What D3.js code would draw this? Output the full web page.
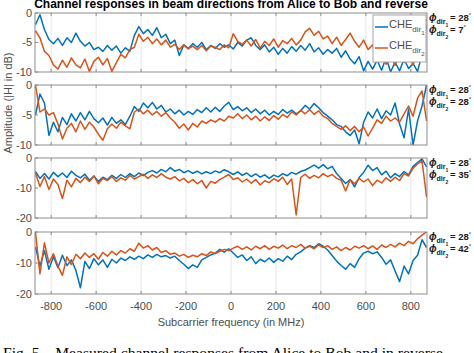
<!DOCTYPE html>
<html>
<head>
<meta charset="utf-8">
<script src="https://cdn.jsdelivr.net/npm/d3@7"></script>
<style>
  body { margin: 0; background: #fff; }
  svg { display: block; }
</style>
</head>
<body>
<div id="canvas"></div>
<script>
"use strict";

/* =========================
   DATA
   ========================= */

// sampling grid of subcarrier frequencies (MHz), one value every 20 MHz
let freqs = d3.range(-870, 871, 20);

let xTicks = [-800, -600, -400, -200, 0, 200, 400, 600, 800];

let phiDir1 = [28, 28, 28, 28];
let phiDir2 = [7, 28, 35, 42];

let yDomains = [[-10, 0], [-10, 0], [-20, 0], [-20, 0]];
let yTickVals = [[0, -5, -10], [0, -5, -10], [0, -10, -20], [0, -10, -20]];

// CHE dir1 (blue) and CHE dir2 (orange), |H| in dB, per panel
let blue1 = [
  -2, -0.3, -2.8, -4.5, -5.2, -4.3, -5.5, -4.2, -5, -3.4,
  -4.8, -5.6, -5, -6.2, -5.8, -6.5, -5.5, -6.3, -5.6, -6.8,
  -5.9, -6.5, -3.8, -2.3, -3.5, -2.8, -3.8, -2.5, -4.2, -3.6,
  -5.2, -4.6, -7.2, -5.4, -6, -5.2, -5.8, -5, -6.2, -5.5,
  -6, -5.2, -5.8, -5.4, -6.1, -5, -5.6, -4.6, -4.2, -5.5,
  -6.2, -5.4, -6.6, -5.8, -7, -6, -6.8, -5.7, -6.5, -5.5,
  -6.3, -5.2, -6.6, -5.9, -7, -6.2, -6.8, -6, -7.5, -6.4,
  -7.8, -8.6, -7.4, -9.8, -8.2, -9.5, -8, -9.7, -7.5, -10,
  -8.3, -9.8, -7.8, -9.4, -8.6, -9.9, -7, -2
];
let orange1 = [
  -3, -4.2, -6.5, -7.2, -8.8, -9.5, -8, -9.2, -7.6, -8.8,
  -9.3, -7.8, -9.9, -8.2, -7.5, -8.8, -7.7, -9.9, -8.4, -7,
  -7.6, -6.2, -5.8, -3.6, -4.8, -4.1, -5.2, -4.4, -5.4, -4.6,
  -5.8, -5.3, -6.2, -5.4, -6.1, -5.6, -6.2, -5.5, -6.4, -5.6,
  -5.8, -6.2, -5.4, -5.9, -3.5, -4.8, -5.3, -4.6, -5.6, -4.5,
  -5.9, -4.8, -5.5, -4.4, -5.8, -4.7, -5.2, -4.3, -5.4, -4.6,
  -3.2, -2.6, -3.8, -3.1, -4.4, -3.9, -5.2, -4.1, -5.5, -4.5,
  -3.4, -4.8, -5.8, -4.6, -6.2, -5.4, -8.2, -6.4, -8.7, -7,
  -8.9, -6.8, -8.4, -7.2, -8.8, -6.5, -4, -1
];
let blue2 = [
  -5, -1.5, -3, -8.4, -6.2, -7.8, -5.4, -6.6, -4.8, -6,
  -4.6, -5.8, -4.4, -5.6, -6.3, -5.5, -6.7, -5.4, -6.4, -5.8,
  -6.6, -5.2, -3.6, -4.4, -3, -3.8, -2.9, -4, -3.4, -4.5,
  -4, -4.8, -4.2, -5, -4.4, -4.9, -4.1, -4.6, -3.8, -4.5,
  -3.7, -4.4, -3.5, -2.9, -4.1, -3.6, -4.3, -3.8, -4.6, -4,
  -4.8, -4.2, -5, -4.4, -4.9, -4.1, -4.7, -4.2, -4.8, -4.3,
  -3.4, -4, -3.1, -3.8, -4.6, -5.2, -5.8, -6.6, -6.9, -7.8,
  -8.4, -7.5, -9.8, -6.2, -4.5, -5.5, -4, -5.6, -4.3, -5,
  -3, -6.5, -8.8, -4, -10, -6, -3.5, 0
];
let orange2 = [
  0, -4.5, -4, -5, -4.6, -6.5, -9, -7.2, -6.4, -7.8,
  -6, -7.4, -6.2, -7, -8.2, -9.2, -7.3, -6.5, -7.2, -6.2,
  -6.8, -7.3, -4.5, -4, -4.8, -4.2, -5, -4.4, -5.2, -4.6,
  -5.5, -6.2, -7.2, -6.5, -7.5, -6.4, -7, -6, -6.4, -5.8,
  -6.2, -5.6, -6, -5.2, -5.5, -4.8, -5.6, -5, -5.8, -5.2,
  -6, -5.3, -5.9, -5.1, -5.7, -4.9, -5.4, -4.5, -5, -4.2,
  -4.8, -4.1, -4.9, -4.3, -5.2, -5.6, -6.4, -6.9, -7.4, -6.8,
  -7.6, -6.9, -7.8, -7, -8.5, -7.2, -5.8, -6.4, -5.2, -6,
  -5.5, -6.2, -4.8, -3.5, -5.2, -2.2, -1, -6
];
let blue3 = [
  -4.5, -6.8, -5.2, -7, -4.8, -6.2, -5, -6.5, -4.4, -5.8,
  -6.6, -5.4, -7.4, -6, -7.8, -6.4, -7.2, -5.8, -6.8, -5.5,
  -6.5, -5.2, -6.2, -5, -5.9, -4.8, -4.2, -5, -3.8, -4.6,
  -3.2, -4.4, -3.8, -4.9, -4.2, -5.1, -4.4, -5.3, -4.6, -5.2,
  -4.3, -4.9, -3.9, -4.6, -5.5, -4.6, -5.8, -5, -6.2, -5.3,
  -6.4, -5.6, -6.8, -5.7, -6.3, -5.2, -5.9, -4.8, -5.4, -4.5,
  -4, -3.2, -2.4, -3.4, -2.2, -3.6, -2.8, -5.2, -6.8, -8.5,
  -7.2, -9.6, -6.5, -4.8, -2.4, -4.2, -3.2, -5.6, -4.4, -6.6,
  -5.2, -6.2, -4.5, -5.6, -2.8, -1.5, -0.3, -3
];
let orange3 = [
  -5, -9.5, -6.2, -10.5, -7, -8.8, -13.5, -7.4, -9.6, -6.8,
  -8.2, -6.4, -7.8, -6, -8.6, -6.8, -7.5, -6.2, -7.8, -6.6,
  -7.4, -5.8, -7, -6.2, -5.4, -6.8, -5.6, -6.5, -5.2, -6.4,
  -7, -6.2, -7.6, -6.8, -8.2, -7.2, -8.6, -7.5, -10, -7.8,
  -8.4, -7.2, -6.4, -5.5, -7.2, -6.6, -8, -7, -8.4, -7.2,
  -9, -7.6, -8.2, -6.9, -7.8, -6.4, -8.8, -7, -19, -6.5,
  -5.4, -6.8, -5.8, -6.6, -5.2, -6.2, -5.5, -6.8, -7.4, -11,
  -7.2, -8.6, -6.8, -8, -7, -9.2, -7.4, -8.3, -6.6, -7.8,
  -6.4, -7.5, -5.2, -6, -3.4, -2, -1, -13
];
let blue4 = [
  -4.8, -11, -6, -12, -8, -11.5, -7.5, -10.8, -9, -12.4,
  -18, -9.5, -11.8, -8.6, -10.6, -9, -11.4, -8.8, -10, -8.4,
  -9.2, -8, -8.8, -7.8, -8.6, -7.4, -8.2, -7.2, -8, -7.6,
  -8.4, -7.8, -9.2, -10.4, -11.8, -10.6, -11.4, -9, -8.2, -7.4,
  -6.8, -5.6, -6.5, -5.4, -6.8, -8.2, -7.4, -9.2, -8, -10.2,
  -8.8, -9.6, -8.4, -9.8, -8.6, -9.4, -7.8, -8.9, -7.2, -6.4,
  -5.2, -4.4, -5, -3.8, -4.6, -5.8, -7.6, -9.4, -10.8, -12,
  -10.2, -11.4, -8.6, -6.8, -6.2, -7, -6.4, -8.2, -10.4, -9,
  -12.6, -16, -11, -13.5, -9.2, -7.5, -2.5, -5
];
let orange4 = [
  0, -13.5, -3.5, -10, -7, -11, -14, -8, -10.5, -7.2,
  -8.6, -6.8, -8.2, -7, -8.8, -6.6, -7.8, -6.2, -7.4, -6,
  -6.8, -5.4, -6.2, -3.6, -5.2, -4.4, -5.8, -5, -6.6, -6,
  -7.2, -6.8, -7.8, -7.2, -8.2, -7.5, -8, -7, -7.6, -6.4,
  -7, -6.2, -5.6, -6, -5.2, -4.6, -5.6, -4.8, -5.8, -4.6,
  -5.4, -4.4, -5.6, -4.6, -5.2, -4.2, -5.4, -4.4, -5, -4,
  -5.2, -4.6, -5.4, -4.2, -5, -4.4, -5.6, -4.8, -6, -5,
  -5.8, -4.6, -5.2, -4.4, -5.4, -4.5, -5.6, -4.2, -5, -4,
  -4.8, -3.6, -4.4, -3, -3.8, -2.2, -1, 0
];

let blueSeries = [blue1, blue2, blue3, blue4];
let orangeSeries = [orange1, orange2, orange3, orange4];

/* =========================
   CONFIGURATION
   ========================= */

let svgWidth = 474;
let svgHeight = 353;

let plotLeft = 35;
let plotRight = 427;
let panelTops = [13, 85, 158, 232];
let panelBottoms = [72, 145, 218, 294];

let blueColor = "#0072BD";
let orangeColor = "#D95319";
let axisColor = "#8c8c8c";
let textColor = "#4d4d4d";
let fontFamily = "Liberation Sans, Arial, sans-serif";

let svg = d3.select("#canvas")
    .append("svg")
    .attr("width", svgWidth)
    .attr("height", svgHeight);

let xScale = d3.scaleLinear()
    .domain([-872, 872])
    .range([plotLeft, plotRight]);

/* =========================
   PANELS
   ========================= */

panelTops.forEach(function(top, p) {

    let bottom = panelBottoms[p];

    let yScale = d3.scaleLinear()
        .domain(yDomains[p])
        .range([bottom, top]);

    let g = svg.append("g");

    /* vertical grid */
    g.selectAll(".grid")
        .data(xTicks)
        .join("line")
        .attr("x1", d => xScale(d))
        .attr("x2", d => xScale(d))
        .attr("y1", top)
        .attr("y2", bottom)
        .attr("stroke", "#e6e6e6")
        .attr("stroke-width", 1);

    /* clip for data */
    svg.append("clipPath")
        .attr("id", "clip" + p)
        .append("rect")
        .attr("x", plotLeft)
        .attr("y", top)
        .attr("width", plotRight - plotLeft)
        .attr("height", bottom - top);

    let line = d3.line()
        .x((d, i) => xScale(freqs[i]))
        .y(d => yScale(d));

    let lines = g.append("g").attr("clip-path", "url(#clip" + p + ")");

    lines.append("path")
        .datum(blueSeries[p])
        .attr("d", line)
        .attr("fill", "none")
        .attr("stroke", blueColor)
        .attr("stroke-width", 1.5)
        .attr("stroke-linejoin", "round");

    lines.append("path")
        .datum(orangeSeries[p])
        .attr("d", line)
        .attr("fill", "none")
        .attr("stroke", orangeColor)
        .attr("stroke-width", 1.5)
        .attr("stroke-linejoin", "round");

    /* box */
    g.append("rect")
        .attr("x", plotLeft)
        .attr("y", top)
        .attr("width", plotRight - plotLeft)
        .attr("height", bottom - top)
        .attr("fill", "none")
        .attr("stroke", axisColor)
        .attr("stroke-width", 1);

    /* inward x ticks, bottom and top */
    xTicks.forEach(function(t) {
        g.append("line")
            .attr("x1", xScale(t)).attr("x2", xScale(t))
            .attr("y1", bottom).attr("y2", bottom - 3)
            .attr("stroke", axisColor);
        g.append("line")
            .attr("x1", xScale(t)).attr("x2", xScale(t))
            .attr("y1", top).attr("y2", top + 3)
            .attr("stroke", axisColor);
    });

    /* y ticks and labels */
    yTickVals[p].forEach(function(t) {
        g.append("line")
            .attr("x1", plotLeft).attr("x2", plotLeft + 3)
            .attr("y1", yScale(t)).attr("y2", yScale(t))
            .attr("stroke", axisColor);
        g.append("text")
            .attr("x", plotLeft - 3)
            .attr("y", yScale(t))
            .attr("dy", "0.35em")
            .attr("text-anchor", "end")
            .attr("font-family", fontFamily)
            .attr("font-size", 11)
            .attr("fill", textColor)
            .text(t === 0 ? "0" : "-" + Math.abs(t));
    });

    /* right-side angle annotation */
    [phiDir1[p], phiDir2[p]].forEach(function(angle, k) {
        let base = top + 8 + k * 12;
        let t = g.append("text")
            .attr("x", 429)
            .attr("y", base)
            .attr("font-family", fontFamily)
            .attr("font-size", 10)
            .attr("font-weight", "bold")
            .attr("fill", "#1a1a1a");
        t.append("tspan").attr("font-style", "italic").text("\u03d5");
        t.append("tspan").attr("font-size", 7).attr("dy", 3).text("dir");
        t.append("tspan").attr("font-size", 5).attr("dy", 3).text(k + 1);
        t.append("tspan").attr("x", 450).attr("y", base).attr("font-size", 9.5).text("= " + angle);
        t.append("tspan").attr("font-size", 6).attr("dy", -4).text("\u00b0");
    });
});

/* =========================
   X TICK LABELS (bottom panel only)
   ========================= */

svg.selectAll(".xlab")
    .data(xTicks)
    .join("text")
    .attr("x", d => xScale(d))
    .attr("y", panelBottoms[3] + 16)
    .attr("text-anchor", "middle")
    .attr("font-family", fontFamily)
    .attr("font-size", 11)
    .attr("fill", textColor)
    .text(d => d < 0 ? "-" + Math.abs(d) : d);

/* =========================
   LEGEND (panel 1)
   ========================= */

let legX = 373;
let legY = 15;

svg.append("rect")
    .attr("x", legX)
    .attr("y", legY)
    .attr("width", 53)
    .attr("height", 47)
    .attr("fill", "#fff")
    .attr("stroke", "#a6a6a6");

[{color: blueColor, n: 1}, {color: orangeColor, n: 2}].forEach(function(item, i) {
    let cy = legY + 12 + i * 21;
    svg.append("line")
        .attr("x1", legX + 2).attr("x2", legX + 15)
        .attr("y1", cy).attr("y2", cy)
        .attr("stroke", item.color)
        .attr("stroke-width", 1.5);
    let t = svg.append("text")
        .attr("x", legX + 16)
        .attr("y", cy + 1)
        .attr("font-family", fontFamily)
        .attr("font-size", 11)
        .attr("fill", textColor);
    t.append("tspan").text("CHE");
    t.append("tspan").attr("font-size", 8).attr("dy", 4).text("dir");
    t.append("tspan").attr("font-size", 6).attr("dy", 3).text(item.n);
});

/* =========================
   TITLES AND LABELS
   ========================= */

svg.append("text")
    .attr("x", (plotLeft + plotRight) / 2)
    .attr("y", 8)
    .attr("text-anchor", "middle")
    .attr("font-family", fontFamily)
    .attr("font-size", 12)
    .attr("font-weight", "bold")
    .attr("fill", "#000")
    .text("Channel responses in beam directions from Alice to Bob and reverse");

svg.append("text")
    .attr("x", (plotLeft + plotRight) / 2)
    .attr("y", 326)
    .attr("text-anchor", "middle")
    .attr("font-family", fontFamily)
    .attr("font-size", 11)
    .attr("fill", textColor)
    .text("Subcarrier frequency (in MHz)");

svg.append("text")
    .attr("transform", "translate(12,103) rotate(-90)")
    .attr("text-anchor", "middle")
    .attr("font-family", fontFamily)
    .attr("font-size", 11)
    .attr("fill", textColor)
    .text("Amplitude (|H| in dB)");

svg.append("text")
    .attr("x", 3)
    .attr("y", 358)
    .attr("font-family", "Liberation Serif, Times New Roman, serif")
    .attr("font-size", 15)
    .attr("textLength", 440)
    .attr("lengthAdjust", "spacingAndGlyphs")
    .attr("fill", "#000")
    .attr("xml:space", "preserve")
    .text("Fig. 5.   Measured channel responses from Alice to Bob and in reverse");
</script>
</body>
</html>
